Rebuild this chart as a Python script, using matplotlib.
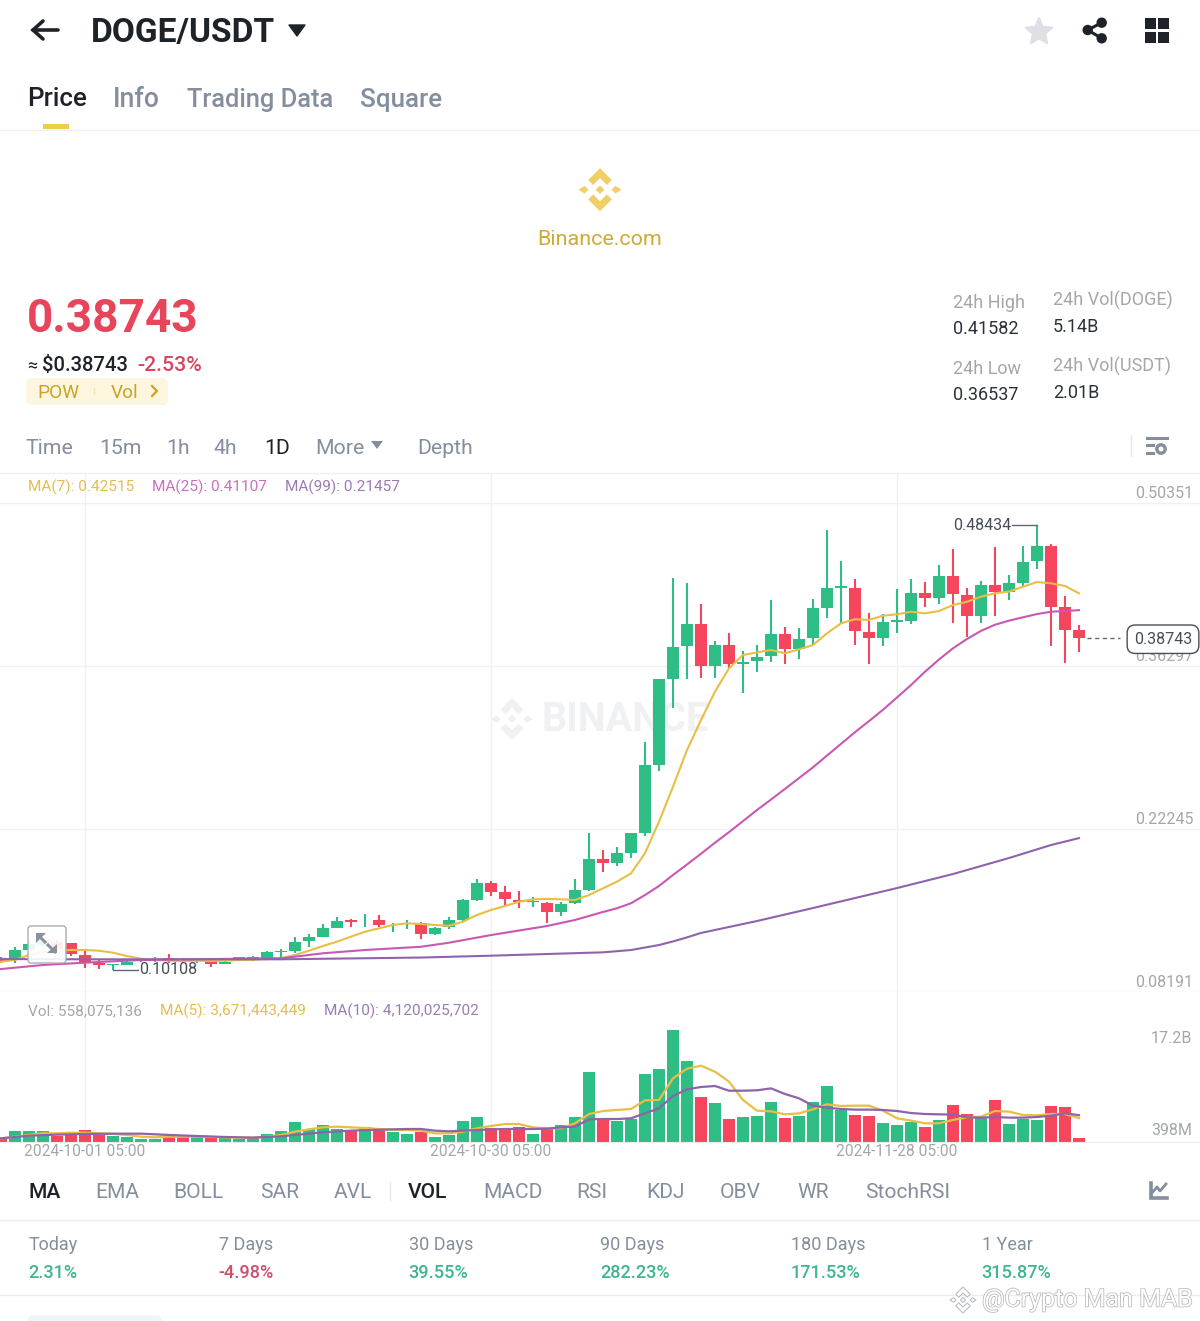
import math
import matplotlib
matplotlib.use("Agg")
import matplotlib.pyplot as plt
import matplotlib.patheffects as pe
from matplotlib.patches import Polygon, FancyBboxPatch, Rectangle, Circle
from matplotlib.transforms import ScaledTranslation

plt.rcParams['font.family'] = ['Roboto', 'DejaVu Sans']

# ---------------- data ----------------
days = list(range(-6, 72))
opens = [.1106,.1095,.1181,.1224,.1250,.1239,.1138,.1072,.1049,.1052,.1089,.1084,.1109,.1095,.1084,.1084,.1060,.1089,.1095,.1109,
         .1166,.1172,.1259,.1296,.1373,.1440,.1428,.1440,.1403,.1403,.1411,.1316,.1377,.1440,.1612,.1756,.1678,.1612,.1595,.1589,
         .1511,.1584,.1698,.1963,.1934,.2020,.2192,.2776,.3515,.3802,.3989,.3629,.3810,.3646,.3675,.3715,.3902,.3778,.3868,.4132,
         .4304,.4299,.3922,.3873,.4011,.4020,.4261,.4218,.4405,.4244,.4063,.4327,.4267,.4347,.4532,.4664,.4140,.3939]
highs = [.1118,.1204,.1250,.1284,.1267,.1244,.1187,.1095,.1060,.1086,.1109,.1123,.1144,.1109,.1101,.1101,.1095,.1123,.1129,.1172,
         .1187,.1296,.1319,.1405,.1463,.1451,.1491,.1483,.1411,.1440,.1422,.1377,.1463,.1621,.1793,.1776,.1733,.1690,.1635,.1592,
         .1597,.1793,.2192,.2043,.2066,.2192,.2977,.3520,.4385,.4342,.4164,.3847,.3916,.3761,.3808,.4198,.3968,.3954,.4204,.4801,
         .4537,.4376,.4089,.4077,.4290,.4376,.4356,.4500,.4635,.4299,.4364,.4658,.4414,.4664,.48434,.4678,.4233,.3985]
lows = [.1066,.1072,.1172,.1216,.1172,.1132,.1028,.1020,.10108,.1049,.1080,.1080,.1072,.1072,.1069,.1032,.1058,.1086,.1089,.1106,
        .1109,.1158,.1204,.1292,.1368,.1377,.1382,.1382,.1334,.1365,.1278,.1310,.1359,.1425,.1606,.1647,.1560,.1541,.1549,.1416,
        .1477,.1578,.1690,.1856,.1905,.1972,.2164,.2724,.3264,.3515,.3523,.3528,.3601,.3399,.3575,.3661,.3646,.3689,.3810,.4040,
        .3997,.3810,.3646,.3804,.3911,.3991,.4135,.4161,.4002,.3877,.4002,.4063,.4198,.4308,.4463,.3802,.3652,.3750]
closes = [.1080,.1181,.1233,.1267,.1190,.1144,.1072,.1049,.1058,.1080,.1103,.1106,.1084,.1080,.1089,.1063,.1080,.1118,.1123,.1161,
          .1175,.1253,.1296,.1368,.1434,.1422,.1434,.1394,.1408,.1408,.1316,.1373,.1440,.1612,.1756,.1684,.1618,.1595,.1606,.1511,
          .1578,.1698,.1963,.1934,.2015,.2187,.2776,.3515,.3795,.3989,.3629,.3810,.3646,.3666,.3709,.3902,.3778,.3864,.4126,.4299,
          .4316,.3931,.3873,.4006,.4026,.4261,.4218,.4405,.4247,.4063,.4325,.4267,.4345,.4526,.4664,.4140,.3939,.38743]
volumes = [.72,1.69,1.64,1.74,.97,1.08,1.80,1.08,.97,.81,.41,.51,.81,.72,.72,.77,.66,.46,.61,1.27,
           1.69,3.12,1.95,2.61,2.04,1.69,2.26,1.80,1.49,1.23,1.49,.81,1.12,3.23,3.89,2.15,2.00,2.35,1.27,2.10,
           2.57,3.89,10.71,3.64,3.27,3.53,10.40,11.21,17.2,12.49,6.87,6.04,3.53,3.79,3.99,6.19,3.73,3.99,6.10,8.60,
           4.92,4.15,3.99,2.96,2.61,3.07,2.30,3.38,5.68,4.30,3.64,6.45,2.76,3.49,3.43,5.58,5.33,.558]

ma7 = [.1080,.1095,.1138,.1164,.1175,.1181,.1181,.1175,.1158,.1129,.1106,.1095,.1089,.1086,.1089,.1086,.1089,.1095,.1097,.1103,
       .1112,.1138,.1175,.1216,.1253,.1296,.1339,.1368,.1397,.1411,.1405,.1397,.1390,.1425,.1483,.1526,.1560,.1597,.1618,.1621,
       .1618,.1612,.1655,.1713,.1770,.1842,.2015,.2287,.2589,.2905,.3164,.3408,.3609,.3724,.3747,.3767,.3739,.3773,.3810,.3911,
       .3997,.4032,.4026,.4063,.4075,.4097,.4083,.4103,.4155,.4183,.4227,.4256,.4270,.4313,.4353,.4342,.4319,.4256]
ma25_days = [-6,-3,0,4,13,14,17,20,24,26,29,33,35,37,38,39,40,41,42,43,44,45,46,47,48,49,50,51,52,53,54,55,56,57,58,59,60,61,62,63,64,65,66,67,68,69,70,71]
ma25 = [.1017,.1052,.1072,.1095,.1109,.1109,.1153,.1181,.1209,.1244,.1310,.1388,.1440,.1509,.1541,.1584,.1655,.1733,.1828,.1918,
        .2011,.2106,.2197,.2292,.2388,.2478,.2570,.2663,.2756,.2857,.2958,.3059,.3154,.3252,.3358,.3465,.3580,.3685,.3782,.3862,
        .3932,.3985,.4020,.4049,.4077,.4097,.4103,.41107]
ma99_days = [-6,0,14,24,29,37,39,41,42,43,44,48,52,55,58,62,66,69,71]
ma99 = [.1103,.1101,.1101,.1116,.1132,.1161,.1181,.1224,.1255,.1290,.1328,.1431,.1543,.1629,.1715,.1836,.1974,.2086,.21457]

vol_ma5 = [.56,.82,1.08,1.33,1.33,1.43,1.43,1.33,1.23,1.08,.82,.72,.82,.82,.82,.77,.72,.67,.67,.82,
           1.08,1.59,1.95,2.25,2.36,2.25,2.15,2.00,1.84,1.84,1.74,1.33,1.33,1.59,2.10,2.46,2.76,2.76,2.25,2.10,
           2.10,2.87,4.30,4.76,4.92,5.07,6.40,6.45,9.78,11.26,11.72,10.80,9.27,6.45,4.81,4.71,4.25,4.40,5.02,5.79,
           5.53,5.58,5.58,4.81,3.64,3.28,2.87,2.87,3.38,3.79,3.89,4.76,4.66,4.15,4.10,4.30,4.30,3.67]
vol_ma10_days = [-6,-4,-2,0,2,4,6,8,10,12,14,15,17,19,21,23,24,25,26,28,30,32,33,34,35,36,37,38,39,40,41,42,43,44,45,46,47,48,49,50,
                 51,52,53,54,55,56,57,58,59,60,61,62,63,64,65,66,67,68,69,70,71]
vol_ma10 = [.56,.97,1.13,1.23,1.28,1.28,1.08,.92,.77,.67,.87,1.08,1.48,1.74,1.89,2.00,2.00,1.74,1.64,1.84,2.00,2.00,2.05,2.25,2.36,3.48,3.53,3.53,3.64,4.40,
            5.17,7.07,8.09,8.45,8.60,7.88,7.88,7.94,8.24,7.37,6.71,5.58,5.27,5.07,4.97,4.97,4.92,4.76,4.45,4.30,4.25,4.20,3.79,3.74,3.84,3.74,3.74,3.84,4.04,4.40,4.12]

price_ticks = [0.50351, 0.36297, 0.22245, 0.08191]
price_labels = ['0.50351', '0.36297', '0.22245', '0.08191']
vol_ticks = [17.2, 0.398]
vol_labels = ['17.2B', '398M']
date_ticks = [0, 29, 58]
date_labels = ['2024-10-01 05:00', '2024-10-30 05:00', '2024-11-28 05:00']
last_price = 0.38743
high_price = 0.48434
low_price = 0.10108

GREEN = '#2EBD85'
RED = '#F6465D'
YEL = '#E8BE45'
PINK = '#C957B4'
PUR = '#8F63AB'
GRID = '#EEF0F2'
GRAY = '#848E9C'
AXG = '#A3A7AC'
DARK = '#1E2329'

W, H = 1200, 1321
fig = plt.figure(figsize=(W / 100, H / 100), dpi=100, facecolor='white')

def axbox(top, bottom):
    return [0, 1 - bottom / H, 1, (bottom - top) / H]

ax = fig.add_axes(axbox(473, 992))
vx = fig.add_axes(axbox(992, 1142))
ui = fig.add_axes([0, 0, 1, 1], zorder=5)
ui.set_xlim(0, W); ui.set_ylim(H, 0); ui.axis('off'); ui.patch.set_alpha(0)

xlim = (-85 / 14, (1200 - 85) / 14)
for a in (ax, vx):
    a.set_xlim(*xlim)
    a.set_xticks(date_ticks)
    a.set_axisbelow(True)
    for s in a.spines.values():
        s.set_visible(False)
ax.grid(True, color=GRID, lw=1.0, zorder=0)
vx.grid(True, axis='x', color=GRID, lw=1.0, zorder=0)
ax.set_ylim(0.08191, 0.08191 + 519 * 0.000862)
vx.set_ylim(0, 150 * 0.1536)
ax.set_xticklabels([])
vx.set_xticklabels(date_labels, color=AXG, fontsize=11.2)
ax.tick_params(axis='x', length=0)
vx.tick_params(axis='x', length=0, pad=1.6)
vx.spines['bottom'].set_visible(True); vx.spines['bottom'].set_color('#E8EAED')

def px(v):
    return v * 0.72

ax.yaxis.tick_right(); vx.yaxis.tick_right()
ax.set_yticks(price_ticks); ax.set_yticklabels(price_labels, color=AXG, fontsize=px(16))
ax.tick_params(axis='y', length=0, pad=-px(1200 - 1135))
for lb in ax.get_yticklabels():
    lb.set_verticalalignment('bottom')
    lb.set_transform(lb.get_transform() + ScaledTranslation(0, 2 / 100, fig.dpi_scale_trans))
vx.set_yticks(vol_ticks); vx.set_yticklabels(vol_labels, color=AXG, fontsize=px(16))
vx.tick_params(axis='y', length=0, pad=-px(1200 - 1151))
vl = vx.get_yticklabels()
vl[0].set_verticalalignment('top')
vl[1].set_verticalalignment('bottom')
vl[0].set_transform(vl[0].get_transform() + ScaledTranslation(0, -1 / 100, fig.dpi_scale_trans))
vl[1].set_transform(vl[1].get_transform() + ScaledTranslation(0, 1 / 100, fig.dpi_scale_trans))

# ---- marks
colors = [GREEN if c >= o else RED for o, c in zip(opens, closes)]
ax.vlines(days, lows, highs, colors=colors, lw=1.5, zorder=2)
ax.bar(days, [abs(c - o) for o, c in zip(opens, closes)], bottom=[min(o, c) for o, c in zip(opens, closes)],
       width=0.85, color=colors, zorder=3)
ax.plot(days, ma7, color=YEL, lw=1.5, zorder=4)
ax.plot(ma25_days, ma25, color=PINK, lw=1.5, zorder=4)
ax.plot(ma99_days, ma99, color=PUR, lw=1.5, zorder=4)

vx.bar(days, volumes, width=0.86, color=colors, zorder=2)
vx.plot(days, vol_ma5, color=YEL, lw=1.6, zorder=3)
vx.plot(vol_ma10_days, vol_ma10, color=PUR, lw=1.6, zorder=3)

# high / low markers
ax.plot([66.2, 68], [high_price, high_price], color='#5E6673', lw=1, zorder=2)
ax.text(66.15, high_price, f'{high_price:.5f}', ha='right', va='center', color='#474D57', fontsize=px(16), zorder=6)
ax.plot([2, 3.8], [low_price, low_price], color='#5E6673', lw=1, zorder=2)
ax.text(3.85, low_price, f'{low_price:.5f}', ha='left', va='center', color='#474D57', fontsize=px(16), zorder=6)

# last price
ax.hlines(last_price, 71.6, 73.9, colors='#5E6673', lw=1, linestyles=(0, (3, 2.5)), zorder=4)
ax.annotate(f'{last_price:.5f}', xy=(77.0, last_price), xytext=(0, -1.2), textcoords='offset points',
            ha='center', va='center', color='#474D57', fontsize=px(16), zorder=7,
            bbox=dict(boxstyle='round,pad=0.42,rounding_size=0.5', fc='white', ec='#474D57', lw=1.0))

# ---- helpers for the app chrome
def T(x, y, s, size, color=GRAY, weight='normal', ha='left', va='center', **k):
    return ui.text(x, y + 2.5, s, fontsize=px(size), color=color, fontweight=weight, ha=ha, va=va, **k)

def binance_logo(target, cx, cy, s, fc, ec='none', lw=0, z=1, transform=None):
    polys = [
        [(0, -.2), (.2, 0), (0, .2), (-.2, 0)],
        [(-.72, -.18), (-.54, 0), (-.72, .18), (-1, 0)],
        [(.72, -.18), (1, 0), (.72, .18), (.54, 0)],
        [(0, -1), (.55, -.45), (.32, -.22), (0, -.54), (-.32, -.22), (-.55, -.45)],
        [(0, 1), (.55, .45), (.32, .22), (0, .54), (-.32, .22), (-.55, .45)],
    ]
    for p in polys:
        target.add_patch(Polygon([(cx + a * s, cy + b * s) for a, b in p], closed=True, fc=fc, ec=ec, lw=lw,
                                 zorder=z, transform=transform or target.transData))

# watermark under the candles
binance_logo(ax, 512, 719, 21, '#EFF0F2', z=1, transform=ui.transData)
ax.text(541 / W, 1 - 720 / H, 'BINANCE', transform=fig.transFigure, fontsize=px(39.5), color='#F0F1F3',
        fontweight='bold', va='center', ha='left', zorder=1)

# header
ui.plot([33, 58], [30, 30], color=DARK, lw=2.6, solid_capstyle='round')
ui.plot([43, 33, 43], [21, 30, 39], color=DARK, lw=2.6, solid_capstyle='round', solid_joinstyle='miter')
T(91, 31, 'DOGE/USDT', 33.5, DARK, 'bold')
ui.add_patch(Polygon([(289, 25), (305, 25), (297, 36)], closed=True, fc=DARK, ec=DARK, lw=1, joinstyle='round'))
star = []
for k in range(10):
    r = 14 if k % 2 == 0 else 6.3
    ang = -math.pi / 2 + k * math.pi / 5
    star.append((1039 + r * math.cos(ang), 32 + r * math.sin(ang)))
ui.add_patch(Polygon(star, closed=True, fc='#DDE0E5', ec='#DDE0E5', lw=1.5, joinstyle='round'))
ui.plot([1101.7, 1087.7, 1101.7], [22.7, 30, 38.3], color=DARK, lw=2.2)
for cxy in [(1101.7, 22.7), (1087.7, 30), (1101.7, 38.3)]:
    ui.add_patch(Circle(cxy, 5.2, fc=DARK, ec='none'))
for x0, y0 in [(1145, 18), (1158, 18), (1145, 32), (1158, 32)]:
    ui.add_patch(Rectangle((x0, y0), 10.5, 10.5, fc=DARK, ec='none'))

T(27, 97, 'Price', 26, DARK, 'medium')
T(113, 97, 'Info', 26.5, GRAY, 'medium')
T(187, 97, 'Trading Data', 25.5, GRAY, 'medium')
T(360, 97, 'Square', 26, GRAY, 'medium')
ui.add_patch(Rectangle((43, 124), 26, 5, fc='#F0CE43', ec='none'))
ui.plot([0, W], [129.5, 129.5], color='#EEF0F2', lw=1)

binance_logo(ui, 600, 189.7, 21.5, '#F0CF66')
T(600, 237, 'Binance.com', 21.5, '#CFAA35', ha='center')

T(27, 317, '0.38743', 46, '#E8445A', 'bold')
T(27, 364, '≈', 18, DARK)
T(42, 363, '$0.38743', 20.3, DARK, 'medium')
T(137, 363, '-2.53%', 21.3, '#D8455F', 'medium')
ui.add_patch(FancyBboxPatch((30, 382), 134, 19, boxstyle='round,pad=4,rounding_size=6', fc='#FDF6DE', ec='none'))
T(37, 390, 'POW', 19, '#C9A227')
ui.plot([93.5, 93.5], [388, 394], color='#EFE3B8', lw=1)
T(111, 390, 'Vol', 19, '#C9A227')
ui.plot([152, 157, 152], [386, 391, 396], color='#C9A227', lw=1.6)

for x, s, c in [(26, 'Time', GRAY), (99, '15m', GRAY), (166, '1h', GRAY), (214, '4h', GRAY), (264, '1D', DARK),
                (315, 'More', GRAY), (417, 'Depth', GRAY)]:
    T(x, 446, s, 21.3, c)
ui.add_patch(Polygon([(371, 441), (383, 441), (377, 449)], closed=True, fc=GRAY, ec='none'))

T(953, 300, '24h High', 18, AXG)
T(953, 326, '0.41582', 18, '#2B3139')
T(953, 366, '24h Low', 18, AXG)
T(953, 392, '0.36537', 18, '#2B3139')
T(1053, 298, '24h Vol(DOGE)', 18, AXG)
T(1053, 324, '5.14B', 18, '#2B3139')
T(1053, 364, '24h Vol(USDT)', 18, AXG)
T(1053, 390, '2.01B', 18, '#2B3139')

ui.plot([1131, 1131], [435, 456], color='#E6E8EA', lw=1)
ui.plot([1147, 1167], [437.5, 437.5], color=GRAY, lw=2.2)
ui.plot([1147, 1153], [445, 445], color=GRAY, lw=2.2)
ui.plot([1147, 1153], [452.5, 452.5], color=GRAY, lw=2.2)
ui.add_patch(Circle((1161, 449), 4.2, fc='white', ec=GRAY, lw=2.4))
ui.plot([0, W], [472.5, 472.5], color='#EEF0F2', lw=1)

T(28, 485, 'MA(7): 0.42515', 15.4, '#E3BC52')
T(152, 485, 'MA(25): 0.41107', 15.4, '#CC6FBE')
T(285, 485, 'MA(99): 0.21457', 15.4, '#9A7CB3')
T(28, 1009, 'Vol: 558,075,136', 15.4, AXG)
T(160, 1009, 'MA(5): 3,671,443,449', 15.4, '#E3BC52')
T(324, 1009, 'MA(10): 4,120,025,702', 15.4, '#9A7CB3')

# expand button
ui.add_patch(FancyBboxPatch((31, 929), 32, 31, boxstyle='round,pad=3,rounding_size=3', fc=(1, 1, 1, .9), ec='#A9ADB3', lw=1))
ui.plot([38, 45], [935, 942], color='#8A929E', lw=2.2)
ui.add_patch(Polygon([(36, 933), (46, 933), (36, 943)], closed=True, fc='#8A929E', ec='none'))
ui.plot([48, 55], [945, 952], color='#8A929E', lw=2.2)
ui.add_patch(Polygon([(57, 953), (47, 953), (57, 944)], closed=True, fc='#8A929E', ec='none'))

# indicator tabs
tabs = [(29, 'MA', DARK), (95, 'EMA', GRAY), (173, 'BOLL', GRAY), (260, 'SAR', GRAY), (334, 'AVL', GRAY), (408, 'VOL', DARK),
        (483, 'MACD', GRAY), (576, 'RSI', GRAY), (646, 'KDJ', GRAY), (720, 'OBV', GRAY), (797, 'WR', GRAY), (865, 'StochRSI', GRAY)]
for x, s, c in tabs:
    T(x, 1190, s, 21, c, 'medium' if c == DARK else 'normal')
ui.plot([389.5, 389.5], [1182, 1200], color='#E6E8EA', lw=1)
ui.plot([1151, 1151, 1167], [1183, 1198, 1198], color=GRAY, lw=2.6, solid_joinstyle='miter')
ui.plot([1151, 1157, 1160, 1166], [1194, 1187, 1191, 1184], color=GRAY, lw=2)
ui.plot([0, W], [1219.5, 1219.5], color='#EAECEF', lw=1)
ui.plot([0, W], [1294.5, 1294.5], color='#EAECEF', lw=1)

perf = [(29, 'Today', 28, '2.31%', 1), (219, '7 Days', 218, '-4.98%', 0), (409, '30 Days', 408, '39.55%', 1),
        (600, '90 Days', 600, '282.23%', 1), (791, '180 Days', 791, '171.53%', 1), (982, '1 Year', 981, '315.87%', 1)]
for x, s, x2, v, up in perf:
    T(x, 1242, s, 18, GRAY)
    T(x2, 1270, v, 18.2, '#3FB68B' if up else '#CF4F6B', 'medium')
ui.add_patch(FancyBboxPatch((34, 1321), 122, 6, boxstyle='round,pad=6,rounding_size=6', fc='#F3F4F6', ec='none'))

# attribution watermark
binance_logo(ui, 963, 1300, 13, 'white', ec='#B9BCC0', lw=0.8, z=8)
T(982, 1297, '@Crypto Man MAB', 25, 'white', zorder=8,
  path_effects=[pe.withStroke(linewidth=1.1, foreground='#B4B7BB')])

fig.savefig('out.png', dpi=100, facecolor='white')
